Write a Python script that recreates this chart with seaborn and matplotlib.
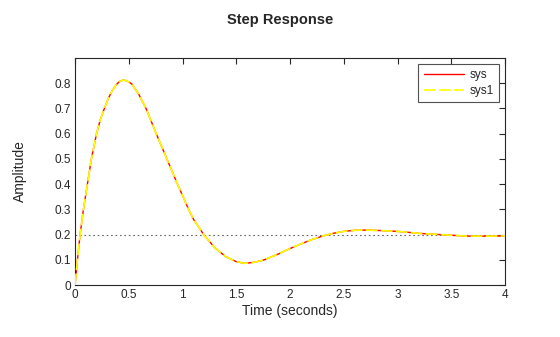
import matplotlib
matplotlib.use("Agg")
import matplotlib.pyplot as plt
import seaborn as sns
import pandas as pd

# values
time_s = [0, 0.022, 0.047, 0.078, 0.115, 0.152, 0.2, 0.235, 0.273, 0.31, 0.345, 0.38, 0.41,
          0.444, 0.48, 0.528, 0.59, 0.66, 0.755, 0.854, 0.953, 1.056, 1.1, 1.2, 1.3, 1.4,
          1.5, 1.577, 1.66, 1.753, 1.9, 2.0, 2.1, 2.2, 2.3, 2.4, 2.5, 2.6, 2.716, 2.85,
          3.026, 3.2, 3.4, 3.647, 3.85, 4.0]
amp_sys = [0, 0.1, 0.2, 0.3, 0.4, 0.5, 0.6, 0.655, 0.7, 0.74, 0.77, 0.792, 0.806,
           0.812, 0.81, 0.797, 0.758, 0.7, 0.6, 0.5, 0.4, 0.3, 0.262, 0.198, 0.148, 0.113,
           0.093, 0.086, 0.09, 0.099, 0.125, 0.145, 0.163, 0.18, 0.194, 0.205, 0.213, 0.217,
           0.218, 0.216, 0.212, 0.205, 0.2, 0.194, 0.194, 0.195]
amp_sys1 = list(amp_sys)
steady_value = 0.2
x_ticks = [0, 0.5, 1, 1.5, 2, 2.5, 3, 3.5, 4]
y_ticks = [0, 0.1, 0.2, 0.3, 0.4, 0.5, 0.6, 0.7, 0.8]

df = pd.DataFrame({"t": time_s, "sys": amp_sys, "sys1": amp_sys1})

sns.set_style("white")
plt.rcParams["font.family"] = ["Liberation Sans", "DejaVu Sans"]

fig = plt.figure(figsize=(5.6, 3.37), dpi=100)
ax = fig.add_axes([0.134, 0.154, 0.768, 0.674])

ax.plot([0, 4], [steady_value, steady_value], linestyle=(0, (1.5, 2.5)), color="#666666",
        linewidth=0.8, zorder=1)
sns.lineplot(data=df, x="t", y="sys", ax=ax, color="#ff0000", linewidth=1.0, label="sys",
             zorder=2)
sns.lineplot(data=df, x="t", y="sys1", ax=ax, color="#ffff00", linewidth=1.2, label="sys1",
             zorder=3, linestyle=(0, (7, 2)))

ax.set_xlim(0, 4)
ax.set_ylim(0, 0.9)
ax.set_xticks(x_ticks)
ax.set_xticklabels([f"{v:g}" for v in x_ticks])
ax.set_yticks(y_ticks)
ax.set_yticklabels([f"{v:g}" for v in y_ticks])
ax.tick_params(direction="in", length=4, width=0.8, top=True, right=True,
               labelsize=8.5, colors="#262626", pad=3)
for s in ax.spines.values():
    s.set_color("#262626")
    s.set_linewidth(0.8)

ax.set_xlabel("Time (seconds)", fontsize=10, color="#262626", labelpad=2)
ax.set_ylabel("Amplitude", fontsize=10, color="#262626", labelpad=20)
fig.suptitle("Step Response", fontsize=10.5, fontweight="bold", color="#262626", y=0.96)

leg = ax.legend(loc="upper right", fontsize=8.5, frameon=True, fancybox=False,
                handlelength=3.4, borderpad=0.45, labelspacing=0.3, borderaxespad=0.5,
                handletextpad=0.5)
leg.get_frame().set_edgecolor("#262626")
leg.get_frame().set_linewidth(0.8)

fig.savefig("out.png", dpi=100)
